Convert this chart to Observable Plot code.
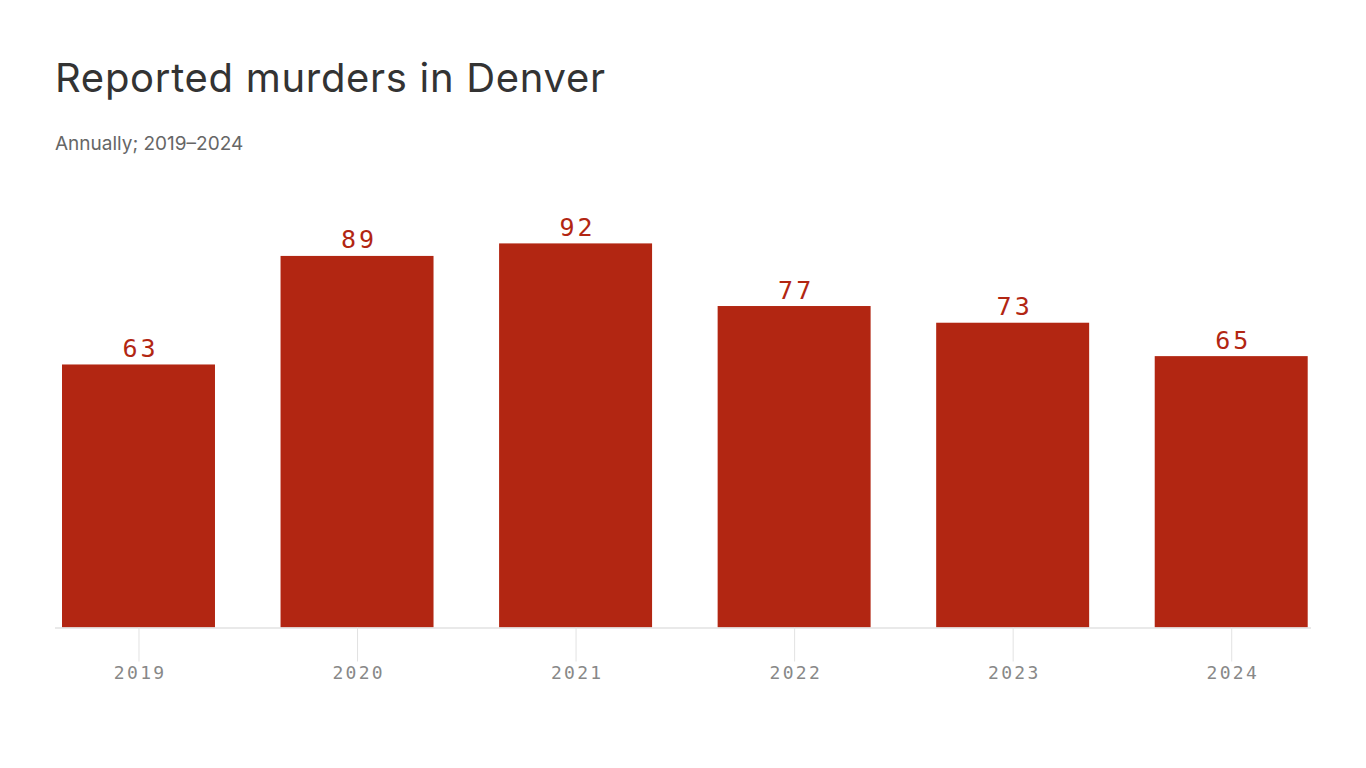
<!DOCTYPE html>
<html>
<head>
<meta charset="utf-8">
<script src="https://cdn.jsdelivr.net/npm/d3@7"></script>
<script src="https://cdn.jsdelivr.net/npm/@observablehq/plot@0.6"></script>
<style>
  html, body { margin: 0; padding: 0; background: #fff; }
  body { width: 1366px; height: 768px; position: relative; overflow: hidden; font-family: Inter, "Noto Sans", sans-serif; }
  #title { position: absolute; left: 55px; top: 58px; font-size: 40px; line-height: 1; color: #333; letter-spacing: 0.7px; }
  #subtitle { position: absolute; left: 55px; top: 134px; font-size: 19px; line-height: 1; color: #666; }
  #chart { position: absolute; left: 0; top: 170px; }
  .vals text { letter-spacing: 3px; }
  .xax text { letter-spacing: 2.3px; }
</style>
</head>
<body>
<div id="title">Reported murders in Denver</div>
<div id="subtitle">Annually; 2019–2024</div>
<div id="chart"></div>
<script>
const years = ["2019", "2020", "2021", "2022", "2023", "2024"];
const murders = [63, 89, 92, 77, 73, 65];
const data = years.map((y, i) => ({year: y, value: murders[i]}));

const chart = Plot.plot({
  width: 1366,
  height: 540,
  marginLeft: 55,
  marginRight: 55,
  marginTop: 40,
  marginBottom: 82.5,
  style: {background: "#fff", overflow: "visible"},
  x: {domain: years, range: [62, 1307.7], paddingInner: 0.3, paddingOuter: 0, round: false, label: null},
  y: {domain: [0, 100], axis: null},
  marks: [
    Plot.barY(data, {x: "year", y: "value", fill: "#b22612"}),
    Plot.ruleY([0], {stroke: "#e2e2e2", strokeWidth: 1.5}),
    Plot.text(data, {x: "year", y: "value", text: d => String(d.value), lineAnchor: "bottom", dy: -8, dx: 1.5, fill: "#b22612", fontSize: 25, fontFamily: "DejaVu Sans Mono", className: "vals"}),
    Plot.axisX({tickSize: 34, tickPadding: 4, stroke: "#e2e2e2", fill: "#888", fontSize: 18, fontFamily: "DejaVu Sans Mono", className: "xax", label: null, dx: 0}),
  ]
});
document.getElementById("chart").appendChild(chart);
// nudge tick labels to compensate trailing letter-spacing
chart.querySelectorAll(".xax text").forEach(t => t.setAttribute("dx", "1.15"));
</script>
</body>
</html>
